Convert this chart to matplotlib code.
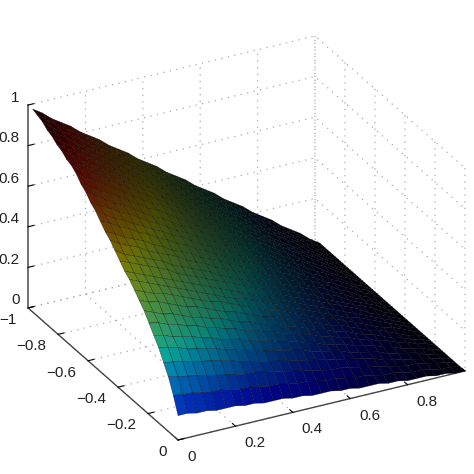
import numpy as np
import matplotlib
matplotlib.use('Agg')
import matplotlib.pyplot as plt
from mpl_toolkits.mplot3d import Axes3D

plt.rcParams['font.family'] = ['Liberation Sans', 'DejaVu Sans']

# surface
x_vals = [0, .033, .067, .1, .133, .167, .2, .233, .267, .3, .333, .367, .4, .433, .467, .5,
          .533, .567, .6, .633, .667, .7, .733, .767, .8, .833, .867, .9, .933, .967, 1]
y_vals = [-.97, -.938, -.905, -.873, -.841, -.808, -.776, -.744, -.711, -.679, -.647, -.614, -.582, -.55, -.518, -.485,
          -.453, -.421, -.388, -.356, -.324, -.291, -.259, -.227, -.194, -.162, -.129, -.097, -.065, -.032, 0]
z_vals = [
    [1,.97,.93,.90,.87,.83,.80,.77,.73,.70,.67,.63,.60,.57,.53,.50,.47,.43,.40,.37,.33,.30,.27,.23,.20,.17,.13,.10,.07,.03,0],
    [.99,.96,.92,.89,.86,.83,.79,.76,.73,.69,.66,.63,.59,.56,.53,.50,.46,.43,.40,.36,.33,.30,.26,.23,.20,.17,.13,.10,.07,.03,0],
    [.98,.94,.91,.88,.85,.81,.78,.75,.72,.68,.65,.62,.59,.55,.52,.49,.46,.42,.39,.36,.33,.29,.26,.23,.20,.16,.13,.10,.07,.03,0],
    [.96,.93,.90,.86,.83,.80,.77,.74,.70,.67,.64,.61,.58,.54,.51,.48,.45,.42,.38,.35,.32,.29,.26,.22,.19,.16,.13,.10,.06,.03,0],
    [.95,.91,.88,.85,.82,.79,.76,.72,.69,.66,.63,.60,.57,.54,.50,.47,.44,.41,.38,.35,.32,.28,.25,.22,.19,.16,.13,.09,.06,.03,0],
    [.93,.90,.87,.84,.81,.78,.74,.71,.68,.65,.62,.59,.56,.53,.50,.47,.43,.40,.37,.34,.31,.28,.25,.22,.19,.16,.12,.09,.06,.03,0],
    [.92,.89,.85,.82,.79,.76,.73,.70,.67,.64,.61,.58,.55,.52,.49,.46,.43,.40,.37,.34,.31,.27,.24,.21,.18,.15,.12,.09,.06,.03,0],
    [.90,.87,.84,.81,.78,.75,.72,.69,.66,.63,.60,.57,.54,.51,.48,.45,.42,.39,.36,.33,.30,.27,.24,.21,.18,.15,.12,.09,.06,.03,0],
    [.89,.86,.83,.80,.77,.74,.71,.68,.65,.62,.59,.56,.53,.50,.47,.44,.41,.38,.35,.32,.30,.27,.24,.21,.18,.15,.12,.09,.06,.03,0],
    [.87,.84,.81,.78,.75,.72,.69,.66,.63,.61,.58,.55,.52,.49,.46,.43,.40,.37,.35,.32,.29,.26,.23,.20,.17,.14,.12,.09,.06,.03,0],
    [.84,.81,.78,.76,.73,.70,.67,.64,.62,.59,.56,.53,.50,.48,.45,.42,.39,.36,.34,.31,.28,.25,.22,.20,.17,.14,.11,.08,.06,.03,0],
    [.82,.79,.76,.73,.71,.68,.65,.62,.60,.57,.54,.52,.49,.46,.43,.41,.38,.35,.33,.30,.27,.24,.22,.19,.16,.14,.11,.08,.05,.03,0],
    [.79,.76,.74,.71,.69,.66,.63,.61,.58,.55,.53,.50,.47,.45,.42,.40,.37,.34,.32,.29,.26,.24,.21,.18,.16,.13,.11,.08,.05,.03,0],
    [.77,.74,.71,.69,.66,.64,.61,.59,.56,.54,.51,.48,.46,.43,.41,.38,.36,.33,.31,.28,.26,.23,.20,.18,.15,.13,.10,.08,.05,.03,0],
    [.74,.72,.69,.67,.64,.62,.59,.57,.54,.52,.49,.47,.44,.42,.39,.37,.35,.32,.30,.27,.25,.22,.20,.17,.15,.12,.10,.07,.05,.02,0],
    [.71,.69,.66,.64,.62,.59,.57,.54,.52,.50,.47,.45,.43,.40,.38,.36,.33,.31,.28,.26,.24,.21,.19,.17,.14,.12,.09,.07,.05,.02,0],
    [.69,.66,.64,.62,.59,.57,.55,.53,.50,.48,.46,.43,.41,.39,.37,.34,.32,.30,.27,.25,.23,.21,.18,.16,.14,.11,.09,.07,.05,.02,0],
    [.66,.63,.61,.59,.57,.55,.52,.50,.48,.46,.44,.41,.39,.37,.35,.33,.31,.28,.26,.24,.22,.20,.17,.15,.13,.11,.09,.07,.04,.02,0],
    [.63,.61,.59,.57,.55,.53,.50,.48,.46,.44,.42,.40,.38,.36,.34,.32,.29,.27,.25,.23,.21,.19,.17,.15,.13,.11,.08,.06,.04,.02,0],
    [.60,.58,.56,.54,.52,.50,.48,.46,.44,.42,.40,.38,.36,.34,.32,.30,.28,.26,.24,.22,.20,.18,.16,.14,.12,.10,.08,.06,.04,.02,0],
    [.58,.56,.54,.52,.50,.48,.46,.44,.42,.40,.38,.36,.35,.33,.31,.29,.27,.25,.23,.21,.19,.17,.15,.13,.12,.10,.08,.06,.04,.02,0],
    [.55,.53,.51,.50,.48,.46,.44,.42,.40,.39,.37,.35,.33,.31,.29,.28,.26,.24,.22,.20,.18,.17,.15,.13,.11,.09,.07,.06,.04,.02,0],
    [.52,.50,.49,.47,.45,.43,.42,.40,.38,.36,.35,.33,.31,.29,.28,.26,.24,.23,.21,.19,.17,.16,.14,.12,.10,.09,.07,.05,.03,.02,0],
    [.49,.47,.45,.44,.42,.40,.39,.37,.36,.34,.32,.31,.29,.27,.26,.24,.23,.21,.19,.18,.16,.15,.13,.11,.10,.08,.06,.05,.03,.02,0],
    [.45,.44,.42,.41,.39,.38,.36,.35,.33,.32,.30,.29,.27,.26,.24,.23,.21,.20,.18,.17,.15,.14,.12,.11,.09,.08,.06,.05,.03,.02,0],
    [.41,.40,.38,.37,.36,.34,.33,.31,.30,.29,.27,.26,.25,.23,.22,.21,.19,.18,.16,.15,.14,.12,.11,.10,.08,.07,.05,.04,.03,.01,0],
    [.37,.36,.35,.33,.32,.31,.30,.28,.27,.26,.25,.23,.22,.21,.20,.19,.17,.16,.15,.14,.12,.11,.10,.09,.07,.06,.05,.04,.02,.01,0],
    [.32,.31,.30,.29,.28,.27,.26,.25,.23,.22,.21,.20,.19,.18,.17,.16,.15,.14,.13,.12,.11,.10,.09,.07,.06,.05,.04,.03,.02,.01,0],
    [.27,.26,.25,.24,.23,.22,.21,.20,.19,.19,.18,.17,.16,.15,.14,.13,.12,.11,.11,.10,.09,.08,.07,.06,.05,.04,.04,.03,.02,.01,0],
    [.20,.19,.19,.18,.17,.17,.16,.15,.15,.14,.13,.13,.12,.11,.11,.10,.09,.09,.08,.07,.07,.06,.05,.05,.04,.03,.03,.02,.01,.01,0],
    [.12,.12,.11,.11,.10,.10,.10,.09,.09,.08,.08,.08,.07,.07,.06,.06,.06,.05,.05,.04,.04,.04,.03,.03,.02,.02,.02,.01,.01,0,0],
]
x_ticks = [0, .2, .4, .6, .8, 1]
x_labels = ['0', '0.2', '0.4', '0.6', '0.8', '1']
y_ticks = [-1, -.8, -.6, -.4, -.2, 0]
y_labels = ['\u22121', '\u22120.8', '\u22120.6', '\u22120.4', '\u22120.2', '0']
z_ticks = [0, .2, .4, .6, .8, 1]
z_labels = ['0', '0.2', '0.4', '0.6', '0.8', '1']

X, Y = np.meshgrid(x_vals, y_vals)
Z = np.array(z_vals)

# jet by height, darkened towards the far edges
t = 1 + Y
shade = (.25 + .5 * t**1.5) * (1 - .9 * X)
colors = plt.cm.jet(Z)
colors[..., :3] *= shade[..., None]

fig = plt.figure(figsize=(4.74, 4.74), dpi=100)
ax = fig.add_axes([3.1 / 474, -7.4 / 474, 1, 1], projection='3d', proj_type='ortho')
ax.set_box_aspect((1, 1, .706), zoom=1.048)
ax.view_init(elev=27.4, azim=-117.6)

ax.plot_surface(X, Y, Z, facecolors=colors, rcount=100, ccount=100,
                shade=False, edgecolor='k', linewidth=.2)

ax.set_xlim(0, 1, view_margin=0)
ax.set_ylim(0, -1, view_margin=0)
ax.set_zlim(0, 1, view_margin=0)
ax.set_xticks(x_ticks)
ax.set_yticks(y_ticks)
ax.set_zticks(z_ticks)
ax.set_xticklabels([])
ax.set_yticklabels([])
ax.set_zticklabels([])

# matlab style label spots, mplot3d can't place these itself
for v, s in zip(x_ticks, x_labels):
    ax.text(v, .06, -.01, s, ha='left', va='top', fontsize=11, color='#222222')
for v, s in zip(y_ticks, y_labels):
    ax.text(-.04, v, -.045, s, ha='right', va='center', fontsize=11, color='#222222')
for v, s in zip(z_ticks, z_labels):
    ax.text(0, -1.057, v, s, ha='right', va='center', fontsize=11, color='#222222')

for axis in (ax.xaxis, ax.yaxis, ax.zaxis):
    axis.set_pane_color((1, 1, 1, 0))
    axis.pane.set_edgecolor((1, 1, 1, 0))
    axis.line.set_color('#444444')
    axis.line.set_linewidth(1)
    axis._axinfo['grid'].update(color='#aaaaaa', linestyle=(0, (1, 4.3)), linewidth=.9)
    axis._axinfo['tick'].update(inward_factor=0, outward_factor=.25, color='#333333',
                                linewidth={True: .8, False: .5})
ax.zaxis.line.set_color('#666666')
ax.zaxis.line.set_linewidth(1.3)

fig.savefig('out.png', dpi=100)
